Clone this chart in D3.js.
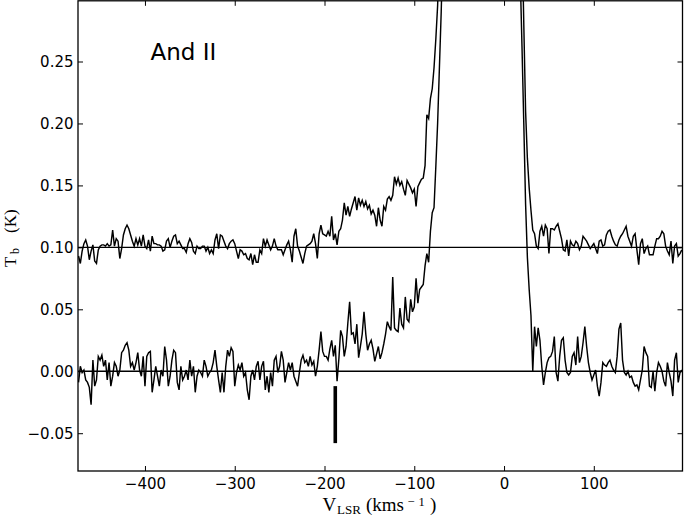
<!DOCTYPE html>
<html>
<head>
<meta charset="utf-8">
<script src="https://cdn.jsdelivr.net/npm/d3@7"></script>
<style>
  html, body { margin: 0; padding: 0; background: #fff; }
  svg { display: block; }
</style>
</head>
<body>
<div id="chart"></div>
<script>
// HI spectra toward And II.
// Brightness temperatures in mK, one value per 2 km/s channel.
const channelStart = -474;   // km/s of first channel
const channelWidth = 2;      // km/s

const lowerMilliK = [
  -9,4,-1,1,-7,-9,-13,-27,9,-12, -7,12,9,13,4,9,-7,7,-12,-4,
  7,4,-4,1,15,17,21,23,17,4, 7,1,7,15,1,-4,12,-12,12,15,
  16,-17,-7,4,-4,-12,1,-4,20,9, -12,-4,9,17,15,-9,-15,4,-7,-4,
  1,-7,9,-4,4,-17,-4,1,-1,-4, 9,4,-4,
  -1,1,7,17,4,-7,-17,-1,-17,4, 17,12,19,16,-12,-1,5,1,7,-4,
  -1,-15,-23,-4,1,-7,4,8,-7,4, 8,-15,-4,-17,-1,-12,9,12,-1,
  4,16,9,-9,-1,7,1,7,-4,-8, -12,-1,9,13,7,9,4,12,5,8,
  -4,4,17,32,16,12,12,9,
  18,25,12,21,-8,10,33,28,12,20, 39,56,30,31,22,38,11,20,30,48,
  30,17,22,25,18,8,14,20,10,15, 22,30,40,36,33,76,35,33,32,51,
  38,35,60,42,40,58,48,52,75,55, 66,68,70,85,95,
  // main Galactic emission, far above the plotted range
  88,113,128,132,165,200,245,290,345,420,
  520,640,830,1040,1320,1690,2150,2580,3120,3650,
  4270,4960,5640,6150,6820,7290,7840,8310,8760,9350,
  9720,10380,10840,11260,11950,12580,13310,13920,14630,14780,
  14450,13640,11930,9820,7360,5230,3310,1880,1120,640,
  420,320,262,200,135,92,66,45,
  0,36,20,35,25,4,-11,-1,7,11, 12,16,28,-1,-8,12,25,27,9,-1,
  -3,-1,12,15,5,28,7,12,23,36, 20,7,-1,-7,-3,1,-12,-20,-9,7,
  5,4,7,9,4,1,-1,12,34,39, 9,-1,-3,0,-5,-4,-9,-12,-11,-15,
  -7,1,20,15,12,-12,-13,0,-16,-1, 7,4,0,-8,-12,7,-1,-8,-20,9,
  15,-9,-1,1
];

const upperMilliK = [
  -7,-13,-3,3,6,1,-10,-3,2,-11, -13,-2,1,2,2,1,3,1,2,14,
  1,7,5,-9,-1,10,15,18,15,10, 5,1,7,2,7,1,10,1,-1,6,
  -3,9,3,3,2,2,1,-3,-2,5, 7,0,5,9,10,3,5,2,-1,-1,
  -4,3,7,4,-3,-5,1,-1,-1,1, 1,-3,0,
  -5,-2,-5,6,11,-1,10,9,5,1, -1,3,5,6,3,-3,-9,-2,-3,-6,
  -5,-9,-10,-5,-14,-6,-12,-12,-2,-5, 7,1,6,2,-2,1,7,1,-2,-2,
  -2,-6,-2,2,5,-2,-12,9,15,1, -3,-8,-13,-5,1,2,3,5,11,3,
  -9,11,18,11,10,9,13,
  9,25,6,11,2,13,15,22,36,26, 33,25,31,36,41,30,40,34,38,33,
  37,31,34,27,30,26,17,32,22,17, 33,30,39,41,38,42,57,51,56,50,
  53,47,42,54,51,48,44,47,33,49, 52,55,56,66,
  107,104,120,128,145,168,195,240,300,380,
  480,630,790,1060,1340,1710,2080,2530,2870,3320,
  3680,4120,4470,4930,5280,5740,6080,6530,6870,7320,
  7690,8140,8460,8920,9280,9730,10080,10420,10580,10710,
  10490,9980,9040,7580,6020,4470,3230,2180,1510,990,
  700,480,340,255,180,110,72,48,30,
  14,11,1,-1,13,17,9,18,15,-5, 15,15,14,17,19,13,7,-2,-3,6,
  -7,5,2,1,5,3,-2,1,9,7, 5,2,-1,1,3,-1,-5,5,6,1,
  2,10,13,14,9,5,2,1,6,9, 11,14,17,9,5,1,9,11,-2,-14,
  3,7,-5,-1,1,-6,-6,-6,1,7, 7,9,13,11,1,-3,-6,5,-13,1,
  3,-7,-5,-2
];

const upperOffset = 0.1;          // K, vertical shift of the upper spectrum
const baselines = [0, 0.1];       // K
const markerVelocity = -188;      // km/s
const markerRange = [-0.012, -0.058];
const xTicks = [-400, -300, -200, -100, 0, 100];
const yTicks = [-0.05, 0, 0.05, 0.10, 0.15, 0.20, 0.25];
const xLimits = [-474.6, 198.8];
const yLimits = [-0.0805, 0.299];
const title = "And II";

const width = 686, height = 517;
const plot = { left: 78, right: 682.5, top: 0.8, bottom: 471 };

const x = d3.scaleLinear().domain(xLimits).range([plot.left, plot.right]);
const y = d3.scaleLinear().domain(yLimits).range([plot.bottom, plot.top]);

const toPoints = (values, offset) => values.map((mk, i) => ({
  v: channelStart + i * channelWidth,
  t: mk / 1000 + offset
}));
const spectra = [toPoints(lowerMilliK, 0), toPoints(upperMilliK, upperOffset)];

const svg = d3.select("#chart").append("svg")
  .attr("width", width)
  .attr("height", height)
  .style("background", "#fff");

svg.append("clipPath").attr("id", "plot-clip")
  .append("rect")
  .attr("x", plot.left).attr("y", plot.top)
  .attr("width", plot.right - plot.left)
  .attr("height", plot.bottom - plot.top);

const body = svg.append("g").attr("clip-path", "url(#plot-clip)");

// reference baselines
body.selectAll("line.base")
  .data(baselines)
  .join("line")
  .attr("class", "base")
  .attr("x1", plot.left).attr("x2", plot.right)
  .attr("y1", d => y(d)).attr("y2", d => y(d))
  .attr("stroke", "#000")
  .attr("stroke-width", 1.3);

const line = d3.line().x(d => x(d.v)).y(d => y(d.t));

body.selectAll("path.spec")
  .data(spectra)
  .join("path")
  .attr("class", "spec")
  .attr("d", line)
  .attr("fill", "none")
  .attr("stroke", "#000")
  .attr("stroke-width", 1.45)
  .attr("stroke-linejoin", "miter");

// velocity marker
body.append("line")
  .attr("x1", x(markerVelocity)).attr("x2", x(markerVelocity))
  .attr("y1", y(markerRange[0])).attr("y2", y(markerRange[1]))
  .attr("stroke", "#000")
  .attr("stroke-width", 3.6);

// axes, ticks pointing inward on all four sides
const tickFont = g => g.selectAll("text")
  .attr("font-family", "DejaVu Sans")
  .attr("font-size", 15)
  .attr("fill", "#000");

const styleAxis = g => {
  g.select(".domain").remove();
  g.selectAll(".tick line").attr("stroke", "#000").attr("stroke-width", 1);
};

svg.append("g")
  .attr("transform", `translate(0,${plot.bottom})`)
  .call(d3.axisBottom(x).tickValues(xTicks).tickFormat(d3.format("d"))
    .tickSize(-5).tickPadding(7))
  .call(styleAxis).call(tickFont);

svg.append("g")
  .attr("transform", `translate(0,${plot.top})`)
  .call(d3.axisTop(x).tickValues(xTicks).tickFormat("").tickSize(-5))
  .call(styleAxis);

svg.append("g")
  .attr("transform", `translate(${plot.left},0)`)
  .call(d3.axisLeft(y).tickValues(yTicks).tickFormat(d3.format(".2f"))
    .tickSize(-5).tickPadding(4.5))
  .call(styleAxis).call(tickFont);

svg.append("g")
  .attr("transform", `translate(${plot.right},0)`)
  .call(d3.axisRight(y).tickValues(yTicks).tickFormat("").tickSize(-5))
  .call(styleAxis);

svg.append("rect")
  .attr("x", plot.left).attr("y", plot.top)
  .attr("width", plot.right - plot.left)
  .attr("height", plot.bottom - plot.top)
  .attr("fill", "none")
  .attr("stroke", "#000")
  .attr("stroke-width", 1.3);

// panel title
svg.append("text")
  .attr("x", 150.5).attr("y", 60)
  .attr("font-family", "DejaVu Sans")
  .attr("font-size", 23)
  .attr("fill", "#000")
  .text(title);

// axis labels (pieces placed individually to mimic the mathtext spacing)
const serif = "Liberation Serif";

const xl = svg.append("text")
  .attr("y", 510.5)
  .attr("font-family", serif)
  .attr("font-size", 19)
  .attr("fill", "#000");
xl.append("tspan").attr("x", 322.5).text("V");
xl.append("tspan").attr("x", 337).attr("y", 514).attr("font-size", 13).text("LSR");
xl.append("tspan").attr("x", 366).attr("y", 510.5).text("(kms");
xl.append("tspan").attr("x", 407.5).attr("y", 505.5).attr("font-size", 12.5).text("\u2212");
xl.append("tspan").attr("x", 418.5).attr("y", 505.5).attr("font-size", 12.5).text("1");
xl.append("tspan").attr("x", 430).attr("y", 510.5).text(")");

const yl = svg.append("text")
  .attr("transform", "translate(15.5,267) rotate(-90)")
  .attr("font-family", serif)
  .attr("font-size", 17)
  .attr("fill", "#000");
yl.append("tspan").attr("x", 0).attr("y", 0).text("T");
yl.append("tspan").attr("x", 13).attr("y", 3.5).attr("font-size", 12).text("b");
yl.append("tspan").attr("x", 34).attr("y", 0).text("(K)");
</script>
</body>
</html>
